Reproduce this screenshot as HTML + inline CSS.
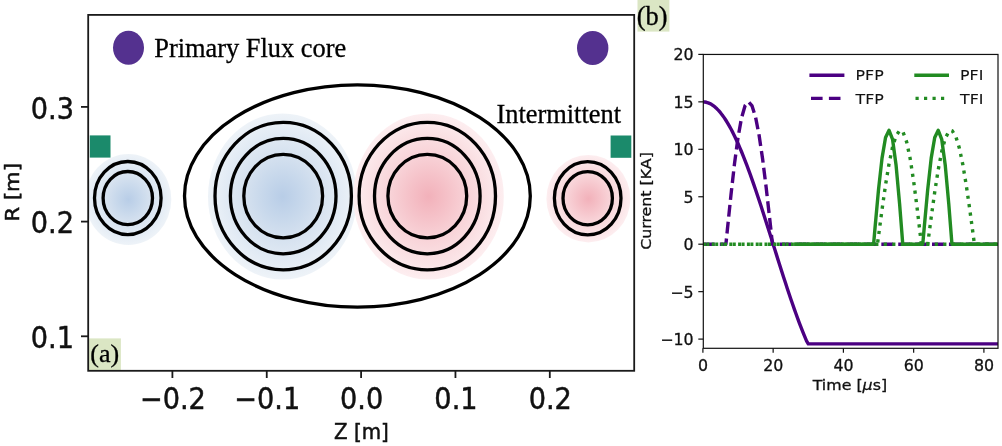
<!DOCTYPE html>
<html lang="en"><head><meta charset="utf-8"><title>Figure</title>
<style>html,body{margin:0;padding:0;background:#fff;overflow:hidden}body{width:1002px;height:446px}</style>
</head><body>
<svg width="1002" height="446" viewBox="0 0 1002 446" style="display:block">
<defs>
<radialGradient id="gb"><stop offset="0" stop-color="#b8cde7"/><stop offset="0.25" stop-color="#c6d7eb"/><stop offset="0.5" stop-color="#d5e1ef"/><stop offset="0.75" stop-color="#e1eaf4"/><stop offset="1" stop-color="#eef3f8"/></radialGradient>
<radialGradient id="gr"><stop offset="0" stop-color="#f2b1ba"/><stop offset="0.25" stop-color="#f5c1c8"/><stop offset="0.5" stop-color="#f8d2d7"/><stop offset="0.75" stop-color="#fae0e3"/><stop offset="1" stop-color="#fdeef0"/></radialGradient>
<clipPath id="cl"><rect x="88.2" y="14.7" width="546" height="356.2"/></clipPath>
<clipPath id="cr"><rect x="703" y="54.5" width="295" height="293.8"/></clipPath>
</defs>
<rect width="1002" height="446" fill="#fff"/>
<g clip-path="url(#cl)">
<ellipse cx="128.3" cy="199.5" rx="43" ry="45.5" fill="url(#gb)"/>
<ellipse cx="282.5" cy="196.5" rx="74.5" ry="83" fill="url(#gb)"/>
<ellipse cx="428.5" cy="196.5" rx="75.3" ry="83" fill="url(#gr)"/>
<ellipse cx="588.4" cy="198.7" rx="42" ry="43.7" fill="url(#gr)"/>
</g>
<g fill="none" stroke="#000" stroke-width="3.3">
<ellipse cx="357.4" cy="195.95" rx="172.9" ry="111.15"/>
<ellipse cx="283.2" cy="196.1" rx="68.2" ry="73.7"/>
<ellipse cx="283.2" cy="196.1" rx="52.8" ry="57.7"/>
<ellipse cx="283.2" cy="196.1" rx="39.4" ry="41.8"/>
<ellipse cx="427.3" cy="196.1" rx="68.2" ry="73.7"/>
<ellipse cx="427.3" cy="196.1" rx="52.8" ry="57.7"/>
<ellipse cx="427.3" cy="196.1" rx="39.4" ry="41.8"/>
<ellipse cx="127.8" cy="198.1" rx="33.3" ry="36.6"/>
<ellipse cx="127.8" cy="198.1" rx="24.7" ry="26.6"/>
<ellipse cx="587.7" cy="198.3" rx="33.3" ry="36.6"/>
<ellipse cx="587.7" cy="198.3" rx="24.7" ry="26.6"/>
</g>
<ellipse cx="128.5" cy="47.8" rx="15.5" ry="17" fill="#54318f"/>
<ellipse cx="592.7" cy="47.9" rx="15.7" ry="17" fill="#54318f"/>
<rect x="89.8" y="135.4" width="20.7" height="22.2" fill="#1b8a6b"/>
<rect x="610.6" y="135.5" width="20.7" height="22.3" fill="#1b8a6b"/>
<rect x="88.7" y="338.4" width="32.2" height="32.4" fill="#dbe6c4"/>
<rect x="637.5" y="0" width="31.9" height="31.6" fill="#dbe6c4"/>
<rect x="88.2" y="14.9" width="546.0" height="355.90000000000003" fill="none" stroke="#1a1a1a" stroke-width="1.8"/>
<g stroke="#1a1a1a" stroke-width="1.8">
<line x1="81" x2="88.2" y1="336.30" y2="336.30"/>
<line x1="81" x2="88.2" y1="221.60" y2="221.60"/>
<line x1="81" x2="88.2" y1="106.90" y2="106.90"/>
<line x1="172.40" x2="172.40" y1="370.9" y2="378"/>
<line x1="266.75" x2="266.75" y1="370.9" y2="378"/>
<line x1="361.10" x2="361.10" y1="370.9" y2="378"/>
<line x1="455.45" x2="455.45" y1="370.9" y2="378"/>
<line x1="549.80" x2="549.80" y1="370.9" y2="378"/>
</g>
<g font-family="'DejaVu Sans', 'Liberation Sans', sans-serif" fill="#111" stroke="#111" stroke-width="0.5">
<text transform="translate(73.90,347.90) scale(0.905,1)" font-size="30" text-anchor="end">0.1</text>
<text transform="translate(73.90,233.20) scale(0.905,1)" font-size="30" text-anchor="end">0.2</text>
<text transform="translate(73.90,118.50) scale(0.905,1)" font-size="30" text-anchor="end">0.3</text>
<text transform="translate(172.90,409.20) scale(0.905,1)" font-size="30" text-anchor="middle">−0.2</text>
<text transform="translate(267.25,409.20) scale(0.905,1)" font-size="30" text-anchor="middle">−0.1</text>
<text transform="translate(361.60,409.20) scale(0.905,1)" font-size="30" text-anchor="middle">0.0</text>
<text transform="translate(455.95,409.20) scale(0.905,1)" font-size="30" text-anchor="middle">0.1</text>
<text transform="translate(550.30,409.20) scale(0.905,1)" font-size="30" text-anchor="middle">0.2</text>
<text transform="translate(361.40,439.30) scale(0.97,1)" font-size="20.5" text-anchor="middle">Z [m]</text>
<text transform="translate(19.30,192.30) rotate(-90) scale(1.04,1)" font-size="20.3" text-anchor="middle">R [m]</text>
</g>
<g font-family="'Liberation Serif', 'Times New Roman', serif" fill="#000" stroke="#000" stroke-width="0.3">
<text transform="translate(154.20,56.80)" font-size="26.4" text-anchor="start">Primary Flux core</text>
<text transform="translate(496.40,123.10)" font-size="26.4" text-anchor="start">Intermittent</text>
<text transform="translate(90.30,361.60)" font-size="26" text-anchor="start">(a)</text>
<text transform="translate(636.80,25.20)" font-size="26.4" text-anchor="start">(b)</text>
</g>
<g clip-path="url(#cr)" fill="none" stroke-linejoin="round">
<polyline points="702.90,101.85 704.66,101.96 706.41,102.29 708.17,102.84 709.92,103.60 711.68,104.59 713.44,105.78 715.19,107.19 716.95,108.82 718.71,110.65 720.46,112.69 722.22,114.93 723.98,117.37 725.73,120.00 727.49,122.83 729.24,125.84 731.00,129.04 732.76,132.41 734.51,135.96 736.27,139.67 738.02,143.54 739.78,147.57 741.54,151.75 743.29,156.07 745.05,160.53 746.81,165.11 748.56,169.82 750.32,174.64 752.07,179.57 753.83,184.60 755.59,189.73 757.34,194.93 759.10,200.21 760.86,205.56 762.61,210.97 764.37,216.43 766.12,221.93 767.88,227.47 769.64,233.03 771.39,238.61 773.15,244.20 774.91,249.79 776.66,255.37 778.42,260.93 780.17,266.47 781.93,271.97 783.69,277.43 785.44,282.84 787.20,288.19 788.96,293.47 790.71,298.67 792.47,303.80 794.23,308.83 795.98,313.76 797.74,318.58 799.49,323.29 801.25,327.87 803.01,332.33 804.76,336.65 806.52,340.83 808.27,343.84 810.03,343.84 811.79,343.84 813.54,343.84 815.30,343.84 817.06,343.84 818.81,343.84 820.57,343.84 822.33,343.84 824.08,343.84 825.84,343.84 827.59,343.84 829.35,343.84 831.11,343.84 832.86,343.84 834.62,343.84 836.38,343.84 838.13,343.84 839.89,343.84 841.64,343.84 843.40,343.84 845.16,343.84 846.91,343.84 848.67,343.84 850.42,343.84 852.18,343.84 853.94,343.84 855.69,343.84 857.45,343.84 859.21,343.84 860.96,343.84 862.72,343.84 864.48,343.84 866.23,343.84 867.99,343.84 869.74,343.84 871.50,343.84 873.26,343.84 875.01,343.84 876.77,343.84 878.52,343.84 880.28,343.84 882.04,343.84 883.79,343.84 885.55,343.84 887.31,343.84 889.06,343.84 890.82,343.84 892.58,343.84 894.33,343.84 896.09,343.84 897.84,343.84 899.60,343.84 901.36,343.84 903.11,343.84 904.87,343.84 906.62,343.84 908.38,343.84 910.14,343.84 911.89,343.84 913.65,343.84 915.41,343.84 917.16,343.84 918.92,343.84 920.67,343.84 922.43,343.84 924.19,343.84 925.94,343.84 927.70,343.84 929.46,343.84 931.21,343.84 932.97,343.84 934.73,343.84 936.48,343.84 938.24,343.84 939.99,343.84 941.75,343.84 943.51,343.84 945.26,343.84 947.02,343.84 948.77,343.84 950.53,343.84 952.29,343.84 954.04,343.84 955.80,343.84 957.56,343.84 959.31,343.84 961.07,343.84 962.83,343.84 964.58,343.84 966.34,343.84 968.09,343.84 969.85,343.84 971.61,343.84 973.36,343.84 975.12,343.84 976.88,343.84 978.63,343.84 980.39,343.84 982.14,343.84 983.90,343.84 985.66,343.84 987.41,343.84 989.17,343.84 990.92,343.84 992.68,343.84 994.44,343.84 996.19,343.84 997.95,343.84 1000.00,343.84" stroke="#4b0082" stroke-width="3.4"/>
<polyline points="702.90,244.20 725.91,244.20 727.49,228.51 731.00,194.60 734.51,163.67 738.02,137.56 741.54,117.84 745.05,105.70 748.39,101.85 748.56,101.86 752.07,105.96 755.59,117.29 759.10,135.27 762.61,158.95 766.12,187.10 769.64,218.23 772.45,244.20 998.00,244.20" stroke="#4b0082" stroke-width="3.4" stroke-dasharray="11.8 5.1"/>
<polyline points="794.23,244.20 871.15,244.20 873.61,244.20 875.01,227.99 878.52,189.62 882.04,158.14 885.55,137.50 889.06,130.32 892.58,139.43 896.09,165.31 899.60,203.82 902.76,244.20 920.32,244.20 922.78,244.20 924.19,227.99 927.70,189.62 931.21,158.14 934.73,137.50 938.24,130.32 941.75,139.43 945.26,165.31 948.77,203.82 951.94,244.20 1000.00,244.20" stroke="#228b22" stroke-width="3.4"/>
<line x1="702.9" x2="794.225" y1="244.2" y2="244.2" stroke="#228b22" stroke-width="3.4" stroke-dasharray="3 0.5 3 2.3"/>
<line x1="794.225" x2="998.0" y1="244.2" y2="244.2" stroke="#228b22" stroke-width="3.4" stroke-dasharray="3.2 5.3" stroke-dashoffset="4"/>
<polyline points="794.23,244.20 877.47,244.20 878.52,236.08 882.04,209.53 885.55,184.93 889.06,163.67 892.58,146.96 896.09,135.73 899.60,130.61 900.65,130.32 903.11,132.29 906.62,141.79 910.14,158.50 913.65,181.25 917.16,208.43 920.67,238.14 921.38,244.20 927.70,244.20 931.21,217.35 934.73,192.02 938.24,169.62 941.75,151.44 945.26,138.48 948.77,131.48 950.88,130.32 952.29,130.82 955.80,136.40 959.31,147.88 962.83,164.62 966.34,185.73 969.85,210.03 973.36,236.20 974.42,244.20 998.00,244.20" stroke="#228b22" stroke-width="3.4" stroke-dasharray="3.2 5.3"/>
</g>
<rect x="703.3" y="54.45" width="294.70000000000005" height="293.85" fill="none" stroke="#111" stroke-width="1.2"/>
<g stroke="#111" stroke-width="1.2">
<line x1="698.3" x2="703.3" y1="54.40" y2="54.40"/>
<line x1="698.3" x2="703.3" y1="101.85" y2="101.85"/>
<line x1="698.3" x2="703.3" y1="149.30" y2="149.30"/>
<line x1="698.3" x2="703.3" y1="196.75" y2="196.75"/>
<line x1="698.3" x2="703.3" y1="244.20" y2="244.20"/>
<line x1="698.3" x2="703.3" y1="291.65" y2="291.65"/>
<line x1="698.3" x2="703.3" y1="339.10" y2="339.10"/>
<line x1="702.90" x2="702.90" y1="348.3" y2="352.8"/>
<line x1="773.15" x2="773.15" y1="348.3" y2="352.8"/>
<line x1="843.40" x2="843.40" y1="348.3" y2="352.8"/>
<line x1="913.65" x2="913.65" y1="348.3" y2="352.8"/>
<line x1="983.90" x2="983.90" y1="348.3" y2="352.8"/>
</g>
<g font-family="'DejaVu Sans', 'Liberation Sans', sans-serif" fill="#111" stroke="#111" stroke-width="0.3">
<text transform="translate(693.60,60.40)" font-size="15.8" text-anchor="end">20</text>
<text transform="translate(693.60,107.85)" font-size="15.8" text-anchor="end">15</text>
<text transform="translate(693.60,155.30)" font-size="15.8" text-anchor="end">10</text>
<text transform="translate(693.60,202.75)" font-size="15.8" text-anchor="end">5</text>
<text transform="translate(693.60,250.20)" font-size="15.8" text-anchor="end">0</text>
<text transform="translate(693.60,297.65)" font-size="15.8" text-anchor="end">−5</text>
<text transform="translate(693.60,345.10)" font-size="15.8" text-anchor="end">−10</text>
<text transform="translate(703.00,370.50)" font-size="15.8" text-anchor="middle">0</text>
<text transform="translate(773.25,370.50)" font-size="15.8" text-anchor="middle">20</text>
<text transform="translate(843.50,370.50)" font-size="15.8" text-anchor="middle">40</text>
<text transform="translate(913.75,370.50)" font-size="15.8" text-anchor="middle">60</text>
<text transform="translate(984.00,370.50)" font-size="15.8" text-anchor="middle">80</text>
<text transform="translate(849.90,390.40) scale(1.07,1)" font-size="14.8" text-anchor="middle">Time [<tspan font-style="italic">μ</tspan>s]</text>
<text transform="translate(650.80,201.00) rotate(-90) scale(1.07,1)" font-size="14.8" text-anchor="middle">Current [KA]</text>
<text transform="translate(855.50,80.40) scale(1.07,1)" font-size="14.8" text-anchor="start" stroke-width="0.1">PFP</text>
<text transform="translate(855.50,103.50) scale(1.07,1)" font-size="14.8" text-anchor="start" stroke-width="0.1">TFP</text>
<text transform="translate(960.00,80.40) scale(1.07,1)" font-size="14.8" text-anchor="start" stroke-width="0.1">PFI</text>
<text transform="translate(960.00,103.50) scale(1.07,1)" font-size="14.8" text-anchor="start" stroke-width="0.1">TFI</text>
</g>
<g fill="none" stroke-width="3.4">
<line x1="809.4" x2="844.4" y1="75.3" y2="75.3" stroke="#4b0082"/>
<line x1="811" x2="844.4" y1="98.4" y2="98.4" stroke="#4b0082" stroke-dasharray="11.6 6.3"/>
<line x1="914.3" x2="949" y1="75.3" y2="75.3" stroke="#228b22"/>
<line x1="915.5" x2="949" y1="98.4" y2="98.4" stroke="#228b22" stroke-dasharray="3.2 5.3"/>
</g>
</svg>
</body></html>
